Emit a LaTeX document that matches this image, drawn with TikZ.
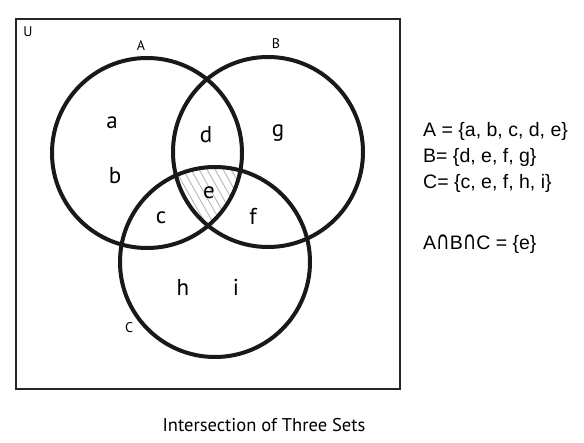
\documentclass[tikz,border=0pt]{standalone}
\usepackage{fontspec}
\setmainfont{PT Sans}
\newfontfamily\arialfont{Liberation Sans}
\newfontfamily\symfont{DejaVu Sans}
\newcommand{\capsym}{\scalebox{0.95}[1.3]{\symfont ∩}}
\begin{document}
\begin{tikzpicture}[x=1pt,y=-1pt,
  setcirc/.style={circle, draw=black!90, line width=4pt, minimum size=190pt, inner sep=0pt},
  elem/.style={font=\fontsize{23}{26}\selectfont, inner sep=0pt},
  setname/.style={font=\fontsize{14}{16}\selectfont, inner sep=0pt},
  eqtext/.style={font=\arialfont\fontsize{19.5}{22}\selectfont, anchor=west, inner sep=0pt},
  hatch/.style={draw=black!30, line width=0.8pt}]
\useasboundingbox (0,0) rectangle (584,443);
\fill[white] (0,0) rectangle (584,443);
% universe
\node[draw=black!85, line width=2.2pt, minimum width=384pt, minimum height=370pt, inner sep=0pt, anchor=north west] (U) at (15,18) {};
% hatching of A and B and C
\begin{scope}
  \clip (147,153) circle (95);
  \clip (268,152) circle (95);
  \clip (215,262) circle (95);
  \foreach \k in {-200,-192,...,300} {
    \draw[hatch] (\k,100) -- (\k+90,260);
  }
\end{scope}
% circles
\node[setcirc] (A) at (147,153) {};
\node[setcirc] (B) at (268,152) {};
\node[setcirc] (C) at (215,262) {};
% labels
\node[setname] (lU) at (28,32) {U};
\node[setname] (lA) at (141,46) {A};
\node[setname] (lB) at (276,44) {B};
\node[setname] (lC) at (129,328) {C};
\node[elem] (ea) at (112,123) {a};
\node[elem] (eb) at (115,176) {b};
\node[elem] (ed) at (206,135) {d};
\node[elem] (eg) at (278,133) {g};
\node[elem] (ee) at (209,193) {e};
\node[elem] (ec) at (161,218) {c};
\node[elem] (ef) at (253,216) {f};
\node[elem] (eh) at (183,287) {h};
\node[elem] (ei) at (236,287) {i};
% equations
\node[eqtext] (t1) at (423,131) {A = \{a, b, c, d, e\}};
\node[eqtext] (t2) at (423,157) {B= \{d, e, f, g\}};
\node[eqtext] (t3) at (423,183) {C= \{c, e, f, h, i\}};
\node[eqtext] (t4) at (423,244) {A\capsym B\capsym C = \{e\}};
% caption
\node[font=\fontsize{18.5}{20}\selectfont, inner sep=0pt] (cap) at (264,425) {Intersection of Three Sets};
\end{tikzpicture}
\end{document}
